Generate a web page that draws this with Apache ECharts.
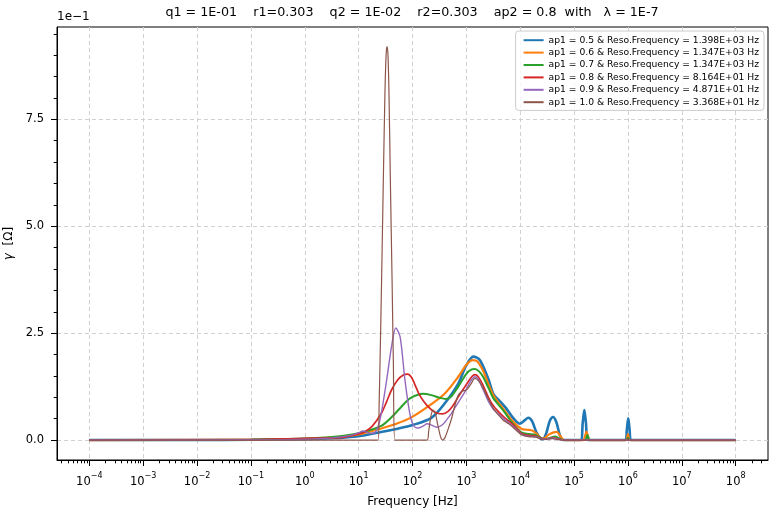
<!DOCTYPE html>
<html>
<head>
<meta charset="utf-8">
<script src="https://cdn.jsdelivr.net/npm/echarts@6/dist/echarts.min.js"></script>
<style>html,body{margin:0;padding:0;background:#fff}#c{width:776px;height:515px}</style>
</head>
<body>
<div id="c"></div>
<script>
// ---- tick labels / axis texts ----
const xTickExponents = [-4, -3, -2, -1, 0, 1, 2, 3, 4, 5, 6, 7, 8];
const yTickValues = [0, 2.5, 5.0, 7.5];
const yOffsetText = '1e\u22121';
const titleText = 'q1 = 1E-01    r1=0.303    q2 = 1E-02    r2=0.303    ap2 = 0.8  with   \u03bb = 1E-7';
const xAxisName = 'Frequency [Hz]';
const seriesNames = [
  'ap1 = 0.5 & Reso.Frequency = 1.398E+03 Hz',
  'ap1 = 0.6 & Reso.Frequency = 1.347E+03 Hz',
  'ap1 = 0.7 & Reso.Frequency = 1.347E+03 Hz',
  'ap1 = 0.8 & Reso.Frequency = 8.164E+01 Hz',
  'ap1 = 0.9 & Reso.Frequency = 4.871E+01 Hz',
  'ap1 = 1.0 & Reso.Frequency = 3.368E+01 Hz'
];
const seriesColors = ['#1f77b4', '#ff7f0e', '#2ca02c', '#d62728', '#9467bd', '#8c564b'];

// ---- data: [log10(frequency / Hz), gamma in units of 1e-1 Ohm] ----
const ap1_05 = [[-4,0],[-2,0.001],[-1,0.005],[0,0.02],[0.5,0.04],[1.0,0.09],[1.42,0.19],[1.7,0.26],[2.0,0.35],[2.35,0.52],[2.6,0.86],[2.85,1.32],[3.0,1.75],[3.13,1.95],[3.25,1.87],[3.41,1.42],[3.5,1.08],[3.58,0.96],[3.66,0.86],[3.74,0.74],[3.84,0.56],[3.93,0.43],[3.99,0.38],[4.08,0.46],[4.15,0.52],[4.22,0.44],[4.3,0.18],[4.38,0.03],[4.42,0.02],[4.48,0.15],[4.55,0.45],[4.61,0.54],[4.67,0.42],[4.74,0.1],[4.8,0],[5.12,0],[5.16,0.4],[5.19,0.7],[5.22,0.4],[5.26,0],[5.95,0],[5.98,0.25],[6.005,0.51],[6.03,0.25],[6.06,0],[8,0]];
const ap1_06 = [[-4,0],[-1,0.006],[0,0.03],[0.5,0.06],[1.0,0.13],[1.42,0.27],[1.7,0.38],[1.98,0.53],[2.35,0.84],[2.6,1.09],[2.85,1.48],[3.0,1.76],[3.12,1.87],[3.2,1.84],[3.31,1.62],[3.41,1.3],[3.5,1.05],[3.6,0.86],[3.68,0.74],[3.76,0.6],[3.84,0.47],[3.95,0.33],[4.03,0.26],[4.12,0.24],[4.21,0.23],[4.3,0.15],[4.38,0.05],[4.44,0.04],[4.52,0.12],[4.62,0.18],[4.68,0.19],[4.74,0.1],[4.8,0.01],[4.85,0],[5.17,0],[5.2,0.08],[5.23,0.2],[5.26,0.08],[5.29,0],[5.96,0],[6.0,0.14],[6.04,0],[8,0]];
const ap1_07 = [[-4,0],[-1,0.008],[0,0.035],[0.5,0.07],[1.0,0.16],[1.42,0.33],[1.6,0.52],[1.75,0.72],[1.9,0.92],[2.0,1.01],[2.1,1.06],[2.2,1.08],[2.35,1.05],[2.5,0.99],[2.62,0.96],[2.72,1.02],[2.85,1.25],[3.0,1.55],[3.1,1.65],[3.16,1.66],[3.24,1.6],[3.31,1.48],[3.41,1.22],[3.5,0.98],[3.6,0.82],[3.68,0.7],[3.76,0.56],[3.84,0.42],[3.95,0.26],[4.03,0.17],[4.15,0.14],[4.28,0.12],[4.38,0.05],[4.46,0.02],[4.55,0.05],[4.65,0.08],[4.72,0.04],[4.8,0],[5.2,0],[5.25,0.12],[5.29,0],[5.97,0],[6.0,0.05],[6.03,0],[8,0]];
const ap1_08 = [[-4,0],[-1,0.01],[0,0.04],[0.5,0.05],[0.75,0.07],[1.0,0.14],[1.11,0.19],[1.25,0.32],[1.42,0.62],[1.52,0.9],[1.61,1.17],[1.72,1.4],[1.83,1.52],[1.91,1.54],[1.98,1.47],[2.05,1.28],[2.12,1.08],[2.2,0.92],[2.29,0.78],[2.38,0.68],[2.48,0.62],[2.56,0.61],[2.66,0.67],[2.75,0.8],[2.85,1.01],[3.0,1.3],[3.1,1.48],[3.16,1.53],[3.22,1.48],[3.31,1.28],[3.41,1.0],[3.5,0.8],[3.6,0.66],[3.68,0.56],[3.76,0.47],[3.84,0.39],[3.95,0.25],[4.03,0.15],[4.15,0.11],[4.28,0.09],[4.38,0.04],[4.46,0.02],[4.6,0.05],[4.7,0.03],[4.8,0],[8,0]];
const ap1_09 = [[-4,0],[-1,0.005],[0,0.02],[0.5,0.05],[0.85,0.11],[1.0,0.17],[1.08,0.21],[1.16,0.18],[1.25,0.15],[1.3,0.17],[1.36,0.31],[1.42,0.62],[1.52,1.4],[1.61,2.18],[1.69,2.62],[1.77,2.41],[1.86,1.4],[1.95,0.62],[2.02,0.34],[2.1,0.28],[2.2,0.33],[2.27,0.38],[2.35,0.35],[2.45,0.3],[2.55,0.35],[2.65,0.5],[2.72,0.62],[2.85,0.88],[2.97,1.12],[3.08,1.38],[3.16,1.48],[3.23,1.4],[3.31,1.18],[3.41,0.9],[3.5,0.72],[3.6,0.6],[3.68,0.51],[3.76,0.43],[3.84,0.35],[3.95,0.22],[4.03,0.13],[4.15,0.09],[4.28,0.08],[4.38,0.04],[4.46,0.02],[4.6,0.04],[4.7,0.02],[4.8,0],[8,0]];
const ap1_10 = [[-4,0],[1.363,0],[1.38,0.8],[1.4,2.0],[1.43,4.0],[1.46,6.2],[1.49,8.2],[1.51,9.0],[1.527,9.2],[1.545,9.0],[1.565,8.0],[1.59,6.0],[1.62,3.8],[1.645,1.8],[1.672,0],[2.27,0],[2.3,0.2],[2.34,0.55],[2.38,0.7],[2.42,0.64],[2.47,0.35],[2.52,0.08],[2.56,0],[2.6,0.05],[2.66,0.25],[2.72,0.48],[2.79,0.82],[2.85,1.05],[2.92,1.14],[3.0,1.17],[3.08,1.3],[3.16,1.44],[3.23,1.38],[3.31,1.22],[3.41,0.95],[3.5,0.74],[3.6,0.58],[3.68,0.47],[3.76,0.4],[3.84,0.33],[3.95,0.2],[4.03,0.12],[4.15,0.08],[4.28,0.07],[4.38,0.03],[4.46,0.02],[4.6,0.03],[4.7,0.01],[4.8,0],[5.98,0],[6.0,0.04],[6.02,0],[8,0]];
const seriesData = [ap1_05, ap1_06, ap1_07, ap1_08, ap1_09, ap1_10];
const lineWidths = [2.6, 2.2, 2.0, 1.7, 1.4, 1.2];

// ---- axis ranges ----
const xMin = -4.6, xMax = 8.6;
const yMin = -0.467, yMax = 9.66;

const xMinorTicks = [];
for (let n = -5; n <= 8; n++) {
  for (let k = 2; k <= 9; k++) {
    const v = n + Math.log10(k);
    if (v > xMin && v < xMax) xMinorTicks.push(v);
  }
}
const yMinorTicks = [];
for (let v = 0.5; v < yMax; v += 0.5) {
  if (Math.abs(v / 2.5 - Math.round(v / 2.5)) > 1e-6) yMinorTicks.push(+v.toFixed(2));
}

const FONT = 'DejaVu Sans';
const chart = echarts.init(document.getElementById('c'), null, {renderer: 'canvas'});
const gridLine = {show: true, lineStyle: {color: '#d0d0d0', width: 1, type: [4, 3]}};

const option = {
  animation: false,
  backgroundColor: '#fff',
  textStyle: {fontFamily: FONT},
  grid: {left: 57, right: 8, top: 27, bottom: 55, show: true, borderColor: '#000', borderWidth: 1,
    containLabel: false, outerBoundsMode: 'none'},
  legend: {
    orient: 'vertical', right: 12, top: 31,
    icon: 'rect', itemWidth: 20, itemHeight: 2, itemGap: 0, itemTextGap: 7,
    data: seriesNames,
    textStyle: {fontFamily: FONT, fontSize: 9.2, lineHeight: 12.4, color: '#000'},
    backgroundColor: 'rgba(255,255,255,0.8)', borderColor: '#cccccc', borderWidth: 1, borderRadius: 3,
    padding: [3, 5, 2, 8]
  },
  xAxis: [{
    type: 'value', min: xMin, max: xMax, position: 'bottom',
    name: xAxisName, nameLocation: 'middle', nameGap: 36,
    nameTextStyle: {fontFamily: FONT, fontSize: 12, color: '#000'},
    axisLine: {show: true, onZero: false, lineStyle: {color: '#000', width: 1}},
    axisTick: {show: true, customValues: xTickExponents, length: 6, lineStyle: {color: '#000', width: 1}},
    axisLabel: {
      customValues: xTickExponents, margin: 12, color: '#000',
      formatter: v => '{b|10}{s|' + (v < 0 ? '\u2212' : '') + Math.abs(Math.round(v)) + '}',
      rich: {
        b: {fontFamily: FONT, fontSize: 11.5, lineHeight: 16, verticalAlign: 'bottom', color: '#000'},
        s: {fontFamily: FONT, fontSize: 8, lineHeight: 8, verticalAlign: 'top', color: '#000'}
      }
    },
    splitLine: gridLine
  }, {
    type: 'value', min: xMin, max: xMax, position: 'bottom',
    axisLine: {show: false, onZero: false},
    axisTick: {show: true, customValues: xMinorTicks, length: 3.3, lineStyle: {color: '#000', width: 1}},
    axisLabel: {show: false},
    splitLine: {show: false}
  }],
  yAxis: [{
    type: 'value', min: yMin, max: yMax, position: 'left',
    name: '{i|\u03b3}  [\u03a9]', nameLocation: 'middle', nameGap: 42,
    nameTextStyle: {fontFamily: FONT, fontSize: 12, color: '#000', rich: {i: {fontFamily: FONT, fontSize: 12, fontStyle: 'italic', color: '#000'}}},
    axisLine: {show: true, onZero: false, lineStyle: {color: '#000', width: 1}},
    axisTick: {show: true, customValues: yTickValues, length: 6, lineStyle: {color: '#000', width: 1}},
    axisLabel: {customValues: yTickValues, margin: 13, color: '#000', fontFamily: FONT, fontSize: 11.5,
      formatter: v => v.toFixed(1)},
    splitLine: gridLine
  }, {
    type: 'value', min: yMin, max: yMax, position: 'left',
    axisLine: {show: false, onZero: false},
    axisTick: {show: true, customValues: yMinorTicks, length: 3.3, lineStyle: {color: '#000', width: 1}},
    axisLabel: {show: false},
    splitLine: {show: false}
  }],
  graphic: [
    {type: 'text', x: 412, y: 13, style: {text: titleText, font: '12.7px "DejaVu Sans"', fill: '#000', align: 'center', verticalAlign: 'middle'}},
    {type: 'text', x: 57, y: 17, style: {text: yOffsetText, font: '12px "DejaVu Sans"', fill: '#000', align: 'left', verticalAlign: 'middle'}}
  ],
  series: seriesData.map((d, i) => ({
    name: seriesNames[i], type: 'line', data: d,
    xAxisIndex: 0, yAxisIndex: 0,
    symbol: 'none', showSymbol: false, smooth: 0.3,
    color: seriesColors[i],
    lineStyle: {color: seriesColors[i], width: lineWidths[i]},
    emphasis: {disabled: true}, z: 2 + i
  }))
};
chart.setOption(option);
</script>
</body>
</html>
